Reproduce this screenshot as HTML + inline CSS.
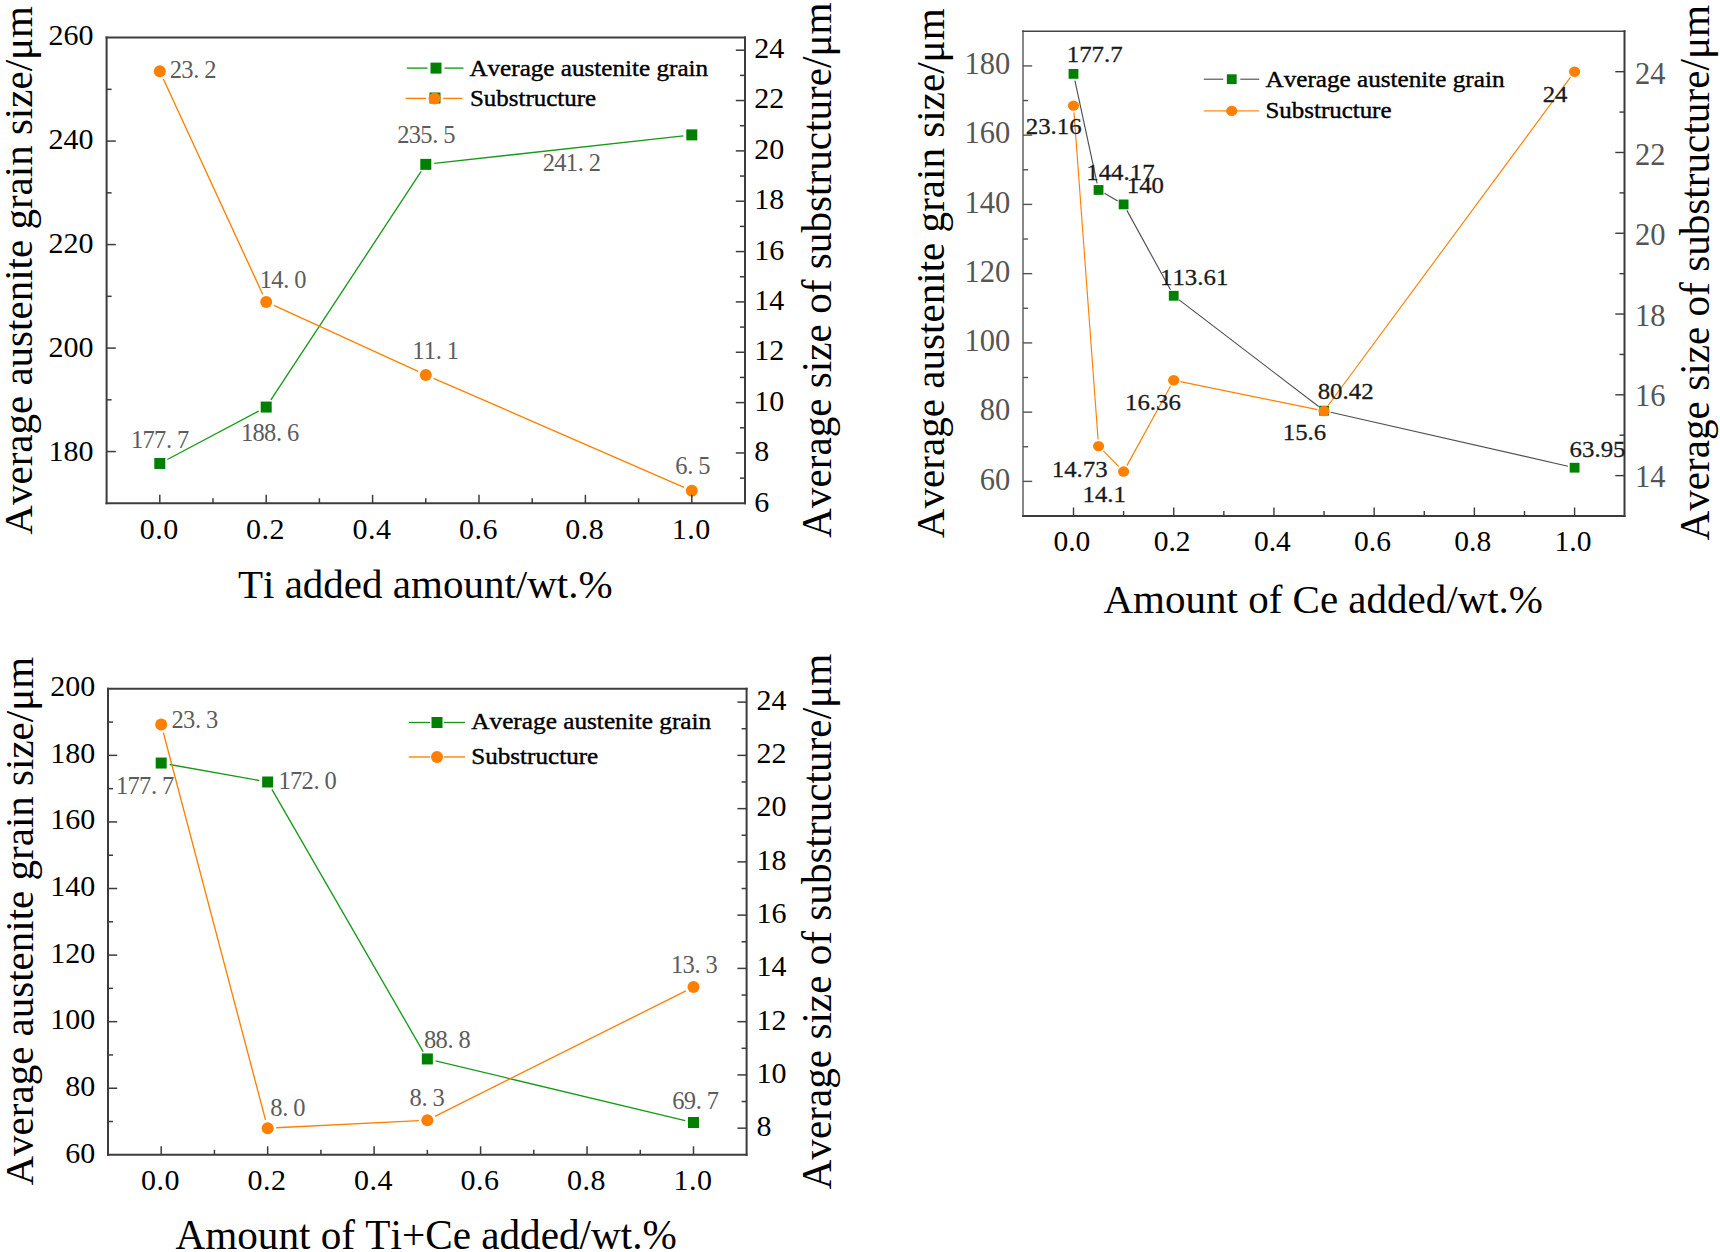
<!DOCTYPE html>
<html lang="en"><head><meta charset="utf-8"><title>Grain size charts</title>
<style>html,body{margin:0;padding:0;background:#fff}body{width:1720px;height:1252px;overflow:hidden;font-family:"Liberation Serif",serif}svg text{font-family:"Liberation Serif",serif}</style>
</head><body>
<svg width="1720" height="1252" viewBox="0 0 1720 1252" font-family="'Liberation Serif', serif" style="font-kerning:none;display:block">
<rect width="1720" height="1252" fill="#fff"/>
<g>
<line x1="167.31" y1="459.48" x2="258.69" y2="411.04" stroke="#189a18" stroke-width="1.35"/>
<line x1="270.87" y1="399.95" x2="421.13" y2="171.48" stroke="#189a18" stroke-width="1.35"/>
<line x1="434.25" y1="163.44" x2="683.35" y2="135.82" stroke="#189a18" stroke-width="1.35"/>
<line x1="163.36" y1="79.05" x2="262.64" y2="294.2" stroke="#ff8000" stroke-width="1.35"/>
<line x1="273.93" y1="305.45" x2="418.07" y2="371.38" stroke="#ff8000" stroke-width="1.35"/>
<line x1="433.59" y1="378.31" x2="684.01" y2="487.32" stroke="#ff8000" stroke-width="1.35"/>
<rect x="154.3" y="457.96" width="11" height="11" fill="#008000"/>
<rect x="260.7" y="401.56" width="11" height="11" fill="#008000"/>
<rect x="420.3" y="158.87" width="11" height="11" fill="#008000"/>
<rect x="686.3" y="129.38" width="11" height="11" fill="#008000"/>
<ellipse cx="159.8" cy="71.33" rx="6" ry="6" fill="#ff8000"/>
<ellipse cx="266.2" cy="301.92" rx="6" ry="6" fill="#ff8000"/>
<ellipse cx="425.8" cy="374.92" rx="6" ry="6" fill="#ff8000"/>
<ellipse cx="691.8" cy="490.71" rx="6" ry="6" fill="#ff8000"/>
<line x1="106.6" y1="36.6" x2="106.6" y2="504.3" stroke="#3c3c3c" stroke-width="2"/>
<line x1="105.6" y1="37.6" x2="746" y2="37.6" stroke="#3c3c3c" stroke-width="2"/>
<line x1="745" y1="36.6" x2="745" y2="504.3" stroke="#3c3c3c" stroke-width="2"/>
<line x1="105.6" y1="503.3" x2="746" y2="503.3" stroke="#3c3c3c" stroke-width="2"/>
<line x1="159.8" y1="503.3" x2="159.8" y2="494.8" stroke="#3c3c3c" stroke-width="1.5"/>
<line x1="213" y1="503.3" x2="213" y2="498.3" stroke="#3c3c3c" stroke-width="1.5"/>
<line x1="266.2" y1="503.3" x2="266.2" y2="494.8" stroke="#3c3c3c" stroke-width="1.5"/>
<line x1="319.4" y1="503.3" x2="319.4" y2="498.3" stroke="#3c3c3c" stroke-width="1.5"/>
<line x1="372.6" y1="503.3" x2="372.6" y2="494.8" stroke="#3c3c3c" stroke-width="1.5"/>
<line x1="425.8" y1="503.3" x2="425.8" y2="498.3" stroke="#3c3c3c" stroke-width="1.5"/>
<line x1="479" y1="503.3" x2="479" y2="494.8" stroke="#3c3c3c" stroke-width="1.5"/>
<line x1="532.2" y1="503.3" x2="532.2" y2="498.3" stroke="#3c3c3c" stroke-width="1.5"/>
<line x1="585.4" y1="503.3" x2="585.4" y2="494.8" stroke="#3c3c3c" stroke-width="1.5"/>
<line x1="638.6" y1="503.3" x2="638.6" y2="498.3" stroke="#3c3c3c" stroke-width="1.5"/>
<line x1="691.8" y1="503.3" x2="691.8" y2="494.8" stroke="#3c3c3c" stroke-width="1.5"/>
<text x="159.2" y="538.6" font-size="30" fill="#000" text-anchor="middle" letter-spacing="0.5">0.0</text>
<text x="265.6" y="538.6" font-size="30" fill="#000" text-anchor="middle" letter-spacing="0.5">0.2</text>
<text x="372" y="538.6" font-size="30" fill="#000" text-anchor="middle" letter-spacing="0.5">0.4</text>
<text x="478.4" y="538.6" font-size="30" fill="#000" text-anchor="middle" letter-spacing="0.5">0.6</text>
<text x="584.8" y="538.6" font-size="30" fill="#000" text-anchor="middle" letter-spacing="0.5">0.8</text>
<text x="691.2" y="538.6" font-size="30" fill="#000" text-anchor="middle" letter-spacing="0.5">1.0</text>
<line x1="106.6" y1="451.56" x2="115.8" y2="451.56" stroke="#3c3c3c" stroke-width="1.5"/>
<text x="93.6" y="460.86" font-size="30" fill="#000" text-anchor="end" >180</text>
<line x1="106.6" y1="399.81" x2="111.6" y2="399.81" stroke="#3c3c3c" stroke-width="1.5"/>
<line x1="106.6" y1="348.07" x2="115.8" y2="348.07" stroke="#3c3c3c" stroke-width="1.5"/>
<text x="93.6" y="356.77" font-size="30" fill="#000" text-anchor="end" >200</text>
<line x1="106.6" y1="296.32" x2="111.6" y2="296.32" stroke="#3c3c3c" stroke-width="1.5"/>
<line x1="106.6" y1="244.58" x2="115.8" y2="244.58" stroke="#3c3c3c" stroke-width="1.5"/>
<text x="93.6" y="252.68" font-size="30" fill="#000" text-anchor="end" >220</text>
<line x1="106.6" y1="192.83" x2="111.6" y2="192.83" stroke="#3c3c3c" stroke-width="1.5"/>
<line x1="106.6" y1="141.09" x2="115.8" y2="141.09" stroke="#3c3c3c" stroke-width="1.5"/>
<text x="93.6" y="148.59" font-size="30" fill="#000" text-anchor="end" >240</text>
<line x1="106.6" y1="89.34" x2="111.6" y2="89.34" stroke="#3c3c3c" stroke-width="1.5"/>
<text x="93.6" y="44.5" font-size="30" fill="#000" text-anchor="end" >260</text>
<text x="754.3" y="511.6" font-size="30" fill="#000" text-anchor="start" >6</text>
<line x1="745" y1="478.13" x2="740" y2="478.13" stroke="#3c3c3c" stroke-width="1.5"/>
<line x1="745" y1="452.95" x2="735.8" y2="452.95" stroke="#3c3c3c" stroke-width="1.5"/>
<text x="754.3" y="461.21" font-size="30" fill="#000" text-anchor="start" >8</text>
<line x1="745" y1="427.78" x2="740" y2="427.78" stroke="#3c3c3c" stroke-width="1.5"/>
<line x1="745" y1="402.61" x2="735.8" y2="402.61" stroke="#3c3c3c" stroke-width="1.5"/>
<text x="754.3" y="410.81" font-size="30" fill="#000" text-anchor="start" >10</text>
<line x1="745" y1="377.44" x2="740" y2="377.44" stroke="#3c3c3c" stroke-width="1.5"/>
<line x1="745" y1="352.26" x2="735.8" y2="352.26" stroke="#3c3c3c" stroke-width="1.5"/>
<text x="754.3" y="360.42" font-size="30" fill="#000" text-anchor="start" >12</text>
<line x1="745" y1="327.09" x2="740" y2="327.09" stroke="#3c3c3c" stroke-width="1.5"/>
<line x1="745" y1="301.92" x2="735.8" y2="301.92" stroke="#3c3c3c" stroke-width="1.5"/>
<text x="754.3" y="310.02" font-size="30" fill="#000" text-anchor="start" >14</text>
<line x1="745" y1="276.74" x2="740" y2="276.74" stroke="#3c3c3c" stroke-width="1.5"/>
<line x1="745" y1="251.57" x2="735.8" y2="251.57" stroke="#3c3c3c" stroke-width="1.5"/>
<text x="754.3" y="259.63" font-size="30" fill="#000" text-anchor="start" >16</text>
<line x1="745" y1="226.4" x2="740" y2="226.4" stroke="#3c3c3c" stroke-width="1.5"/>
<line x1="745" y1="201.22" x2="735.8" y2="201.22" stroke="#3c3c3c" stroke-width="1.5"/>
<text x="754.3" y="209.23" font-size="30" fill="#000" text-anchor="start" >18</text>
<line x1="745" y1="176.05" x2="740" y2="176.05" stroke="#3c3c3c" stroke-width="1.5"/>
<line x1="745" y1="150.88" x2="735.8" y2="150.88" stroke="#3c3c3c" stroke-width="1.5"/>
<text x="754.3" y="158.84" font-size="30" fill="#000" text-anchor="start" >20</text>
<line x1="745" y1="125.71" x2="740" y2="125.71" stroke="#3c3c3c" stroke-width="1.5"/>
<line x1="745" y1="100.53" x2="735.8" y2="100.53" stroke="#3c3c3c" stroke-width="1.5"/>
<text x="754.3" y="108.44" font-size="30" fill="#000" text-anchor="start" >22</text>
<line x1="745" y1="75.36" x2="740" y2="75.36" stroke="#3c3c3c" stroke-width="1.5"/>
<line x1="745" y1="50.19" x2="735.8" y2="50.19" stroke="#3c3c3c" stroke-width="1.5"/>
<text x="754.3" y="58.05" font-size="30" fill="#000" text-anchor="start" >24</text>
<text transform="translate(31.9 270.4) rotate(-90)" font-size="41" fill="#000" text-anchor="middle" >Average austenite grain size/μm</text>
<text transform="translate(831 270.15) rotate(-90)" font-size="41.2" fill="#000" text-anchor="middle" >Average size of substructure/μm</text>
<text x="425.3" y="598" font-size="41" fill="#000" text-anchor="middle" >Ti added amount/wt.%</text>
<line x1="406.9" y1="68.1" x2="427.5" y2="68.1" stroke="#189a18" stroke-width="1.35"/>
<line x1="444.5" y1="68.1" x2="463.5" y2="68.1" stroke="#189a18" stroke-width="1.35"/>
<rect x="430.5" y="62.6" width="11" height="11" fill="#008000"/>
<text x="469.4" y="75.6" font-size="23.8" fill="#000" text-anchor="start" textLength="238.7" lengthAdjust="spacingAndGlyphs" stroke="#000" stroke-width="0.4">Average austenite grain</text>
<line x1="405.6" y1="98.4" x2="426.1" y2="98.4" stroke="#ff8000" stroke-width="1.35"/>
<line x1="443.1" y1="98.4" x2="462.3" y2="98.4" stroke="#ff8000" stroke-width="1.35"/>
<rect x="429.5" y="92.5" width="11" height="11" fill="#008000"/>
<ellipse cx="434.6" cy="98.4" rx="6" ry="6" fill="#ff8000"/>
<text x="470" y="105.6" font-size="23.8" fill="#000" text-anchor="start" textLength="126" lengthAdjust="spacingAndGlyphs" stroke="#000" stroke-width="0.4">Substructure</text>
<text x="175.8 187.3 196.25 210.3" y="77.5" font-size="24.5" fill="#5c5c5c" text-anchor="middle">23.2</text>
<text x="265.8 277.3 286.25 300.3" y="287.5" font-size="24.5" fill="#5c5c5c" text-anchor="middle">14.0</text>
<text x="403.3 414.8 426.3 435.25 449.3" y="143.1" font-size="24.5" fill="#5c5c5c" text-anchor="middle">235.5</text>
<text x="548.95 560.45 571.95 580.9 594.95" y="170.6" font-size="24.5" fill="#5c5c5c" text-anchor="middle">241.2</text>
<text x="418.3 429.8 438.75 452.8" y="359.25" font-size="24.5" fill="#5c5c5c" text-anchor="middle">11.1</text>
<text x="137.05 148.55 160.05 169 183.05" y="447.5" font-size="24.5" fill="#5c5c5c" text-anchor="middle">177.7</text>
<text x="247.05 258.55 270.05 279 293.05" y="441.25" font-size="24.5" fill="#5c5c5c" text-anchor="middle">188.6</text>
<text x="681.45 690.4 704.45" y="474.25" font-size="24.5" fill="#5c5c5c" text-anchor="middle">6.5</text>
</g>
<g>
<line x1="1074.93" y1="80.53" x2="1097.12" y2="183.32" stroke="#505050" stroke-width="1.15"/>
<line x1="1104.45" y1="193.37" x2="1117.72" y2="201.01" stroke="#505050" stroke-width="1.15"/>
<line x1="1126.88" y1="210.37" x2="1170.45" y2="289.81" stroke="#505050" stroke-width="1.15"/>
<line x1="1179.12" y1="299.9" x2="1318.65" y2="406.55" stroke="#505050" stroke-width="1.15"/>
<line x1="1330.68" y1="412.19" x2="1567.97" y2="466.19" stroke="#505050" stroke-width="1.15"/>
<line x1="1074" y1="112.4" x2="1098.06" y2="439.34" stroke="#ff8000" stroke-width="1.15"/>
<line x1="1103.33" y1="450.97" x2="1118.84" y2="466.72" stroke="#ff8000" stroke-width="1.15"/>
<line x1="1126.88" y1="465.61" x2="1170.45" y2="386.24" stroke="#ff8000" stroke-width="1.15"/>
<line x1="1180.38" y1="381.64" x2="1317.39" y2="409.62" stroke="#ff8000" stroke-width="1.15"/>
<line x1="1328.09" y1="405.51" x2="1570.56" y2="77.16" stroke="#ff8000" stroke-width="1.15"/>
<rect x="1068.6" y="68.98" width="9.8" height="9.8" fill="#008000"/>
<rect x="1093.65" y="185.07" width="9.8" height="9.8" fill="#008000"/>
<rect x="1118.71" y="199.51" width="9.8" height="9.8" fill="#008000"/>
<rect x="1168.82" y="290.87" width="9.8" height="9.8" fill="#008000"/>
<rect x="1319.15" y="405.78" width="9.8" height="9.8" fill="#008000"/>
<rect x="1569.7" y="462.8" width="9.8" height="9.8" fill="#008000"/>
<ellipse cx="1073.5" cy="105.62" rx="5.6" ry="5.2" fill="#ff8000"/>
<ellipse cx="1098.56" cy="446.12" rx="5.6" ry="5.2" fill="#ff8000"/>
<ellipse cx="1123.61" cy="471.57" rx="5.6" ry="5.2" fill="#ff8000"/>
<ellipse cx="1173.72" cy="380.28" rx="5.6" ry="5.2" fill="#ff8000"/>
<ellipse cx="1324.05" cy="410.98" rx="5.6" ry="5.2" fill="#ff8000"/>
<ellipse cx="1574.6" cy="71.69" rx="5.6" ry="5.2" fill="#ff8000"/>
<line x1="1023" y1="30.3" x2="1023" y2="517" stroke="#555" stroke-width="1.4"/>
<line x1="1022.3" y1="31.3" x2="1625.5" y2="31.3" stroke="#444" stroke-width="1.5"/>
<line x1="1624.5" y1="30.3" x2="1624.5" y2="517" stroke="#3a3a3a" stroke-width="2"/>
<line x1="1022.3" y1="516" x2="1625.5" y2="516" stroke="#3a3a3a" stroke-width="2"/>
<line x1="1073.5" y1="516" x2="1073.5" y2="507.5" stroke="#3a3a3a" stroke-width="1.4"/>
<line x1="1123.61" y1="516" x2="1123.61" y2="511" stroke="#3a3a3a" stroke-width="1.4"/>
<line x1="1173.72" y1="516" x2="1173.72" y2="507.5" stroke="#3a3a3a" stroke-width="1.4"/>
<line x1="1223.83" y1="516" x2="1223.83" y2="511" stroke="#3a3a3a" stroke-width="1.4"/>
<line x1="1273.94" y1="516" x2="1273.94" y2="507.5" stroke="#3a3a3a" stroke-width="1.4"/>
<line x1="1324.05" y1="516" x2="1324.05" y2="511" stroke="#3a3a3a" stroke-width="1.4"/>
<line x1="1374.16" y1="516" x2="1374.16" y2="507.5" stroke="#3a3a3a" stroke-width="1.4"/>
<line x1="1424.27" y1="516" x2="1424.27" y2="511" stroke="#3a3a3a" stroke-width="1.4"/>
<line x1="1474.38" y1="516" x2="1474.38" y2="507.5" stroke="#3a3a3a" stroke-width="1.4"/>
<line x1="1524.49" y1="516" x2="1524.49" y2="511" stroke="#3a3a3a" stroke-width="1.4"/>
<line x1="1574.6" y1="516" x2="1574.6" y2="507.5" stroke="#3a3a3a" stroke-width="1.4"/>
<text x="1071.9" y="550.6" font-size="29.5" fill="#000" text-anchor="middle" >0.0</text>
<text x="1172.12" y="550.6" font-size="29.5" fill="#000" text-anchor="middle" >0.2</text>
<text x="1272.34" y="550.6" font-size="29.5" fill="#000" text-anchor="middle" >0.4</text>
<text x="1372.56" y="550.6" font-size="29.5" fill="#000" text-anchor="middle" >0.6</text>
<text x="1472.78" y="550.6" font-size="29.5" fill="#000" text-anchor="middle" >0.8</text>
<text x="1573" y="550.6" font-size="29.5" fill="#000" text-anchor="middle" >1.0</text>
<line x1="1023" y1="481.38" x2="1032.2" y2="481.38" stroke="#555" stroke-width="1.4"/>
<text x="1010.2" y="489.58" font-size="30.5" fill="#555" text-anchor="end" >60</text>
<line x1="1023" y1="446.76" x2="1028" y2="446.76" stroke="#555" stroke-width="1.4"/>
<line x1="1023" y1="412.14" x2="1032.2" y2="412.14" stroke="#555" stroke-width="1.4"/>
<text x="1010.2" y="420.34" font-size="30.5" fill="#555" text-anchor="end" >80</text>
<line x1="1023" y1="377.51" x2="1028" y2="377.51" stroke="#555" stroke-width="1.4"/>
<line x1="1023" y1="342.89" x2="1032.2" y2="342.89" stroke="#555" stroke-width="1.4"/>
<text x="1010.2" y="351.09" font-size="30.5" fill="#555" text-anchor="end" >100</text>
<line x1="1023" y1="308.27" x2="1028" y2="308.27" stroke="#555" stroke-width="1.4"/>
<line x1="1023" y1="273.65" x2="1032.2" y2="273.65" stroke="#555" stroke-width="1.4"/>
<text x="1010.2" y="281.85" font-size="30.5" fill="#555" text-anchor="end" >120</text>
<line x1="1023" y1="239.03" x2="1028" y2="239.03" stroke="#555" stroke-width="1.4"/>
<line x1="1023" y1="204.41" x2="1032.2" y2="204.41" stroke="#555" stroke-width="1.4"/>
<text x="1010.2" y="212.61" font-size="30.5" fill="#555" text-anchor="end" >140</text>
<line x1="1023" y1="169.79" x2="1028" y2="169.79" stroke="#555" stroke-width="1.4"/>
<line x1="1023" y1="135.16" x2="1032.2" y2="135.16" stroke="#555" stroke-width="1.4"/>
<text x="1010.2" y="143.36" font-size="30.5" fill="#555" text-anchor="end" >160</text>
<line x1="1023" y1="100.54" x2="1028" y2="100.54" stroke="#555" stroke-width="1.4"/>
<line x1="1023" y1="65.92" x2="1032.2" y2="65.92" stroke="#555" stroke-width="1.4"/>
<text x="1010.2" y="74.12" font-size="30.5" fill="#555" text-anchor="end" >180</text>
<line x1="1624.5" y1="475.61" x2="1615.3" y2="475.61" stroke="#3a3a3a" stroke-width="1.4"/>
<text x="1635" y="487.02" font-size="30.5" fill="#555" text-anchor="start" >14</text>
<line x1="1624.5" y1="435.22" x2="1619.5" y2="435.22" stroke="#3a3a3a" stroke-width="1.4"/>
<line x1="1624.5" y1="394.82" x2="1615.3" y2="394.82" stroke="#3a3a3a" stroke-width="1.4"/>
<text x="1635" y="406.45" font-size="30.5" fill="#555" text-anchor="start" >16</text>
<line x1="1624.5" y1="354.43" x2="1619.5" y2="354.43" stroke="#3a3a3a" stroke-width="1.4"/>
<line x1="1624.5" y1="314.04" x2="1615.3" y2="314.04" stroke="#3a3a3a" stroke-width="1.4"/>
<text x="1635" y="325.88" font-size="30.5" fill="#555" text-anchor="start" >18</text>
<line x1="1624.5" y1="273.65" x2="1619.5" y2="273.65" stroke="#3a3a3a" stroke-width="1.4"/>
<line x1="1624.5" y1="233.26" x2="1615.3" y2="233.26" stroke="#3a3a3a" stroke-width="1.4"/>
<text x="1635" y="245.32" font-size="30.5" fill="#555" text-anchor="start" >20</text>
<line x1="1624.5" y1="192.87" x2="1619.5" y2="192.87" stroke="#3a3a3a" stroke-width="1.4"/>
<line x1="1624.5" y1="152.47" x2="1615.3" y2="152.47" stroke="#3a3a3a" stroke-width="1.4"/>
<text x="1635" y="164.75" font-size="30.5" fill="#555" text-anchor="start" >22</text>
<line x1="1624.5" y1="112.08" x2="1619.5" y2="112.08" stroke="#3a3a3a" stroke-width="1.4"/>
<line x1="1624.5" y1="71.69" x2="1615.3" y2="71.69" stroke="#3a3a3a" stroke-width="1.4"/>
<text x="1635" y="84.18" font-size="30.5" fill="#555" text-anchor="start" >24</text>
<text transform="translate(944.3 273.3) rotate(-90)" font-size="41.1" fill="#000" text-anchor="middle" >Average austenite grain size/μm</text>
<text transform="translate(1708.8 272.8) rotate(-90)" font-size="41.2" fill="#000" text-anchor="middle" >Average size of substructure/μm</text>
<text x="1323.25" y="613" font-size="41" fill="#000" text-anchor="middle" >Amount of Ce added/wt.%</text>
<line x1="1203.75" y1="79.2" x2="1223.25" y2="79.2" stroke="#505050" stroke-width="1.15"/>
<line x1="1240.25" y1="79.2" x2="1259.25" y2="79.2" stroke="#505050" stroke-width="1.15"/>
<rect x="1226.85" y="74.3" width="9.8" height="9.8" fill="#008000"/>
<text x="1265.5" y="86.9" font-size="23.5" fill="#000" text-anchor="start" textLength="239" lengthAdjust="spacingAndGlyphs" stroke="#000" stroke-width="0.4">Average austenite grain</text>
<line x1="1203.75" y1="110.9" x2="1227.75" y2="110.9" stroke="#ff8000" stroke-width="1.15"/>
<line x1="1235.75" y1="110.9" x2="1259.25" y2="110.9" stroke="#ff8000" stroke-width="1.15"/>
<ellipse cx="1231.75" cy="110.9" rx="5.6" ry="5.2" fill="#ff8000"/>
<text x="1265.5" y="118" font-size="23.5" fill="#000" text-anchor="start" textLength="126" lengthAdjust="spacingAndGlyphs" stroke="#000" stroke-width="0.4">Substructure</text>
<text transform="translate(1066.8 61.9) scale(1.035 1)" font-size="24" fill="#1a1a1a" text-anchor="start" stroke="#1a1a1a" stroke-width="0.3">177.7</text>
<text transform="translate(1025.8 134.4) scale(1.035 1)" font-size="24" fill="#1a1a1a" text-anchor="start" stroke="#1a1a1a" stroke-width="0.3">23.16</text>
<text transform="translate(1086.3 180) scale(1.035 1)" font-size="24" fill="#1a1a1a" text-anchor="start" stroke="#1a1a1a" stroke-width="0.3">144.17</text>
<text transform="translate(1126.8 192.6) scale(1.035 1)" font-size="24" fill="#1a1a1a" text-anchor="start" stroke="#1a1a1a" stroke-width="0.3">140</text>
<text transform="translate(1160.05 285) scale(1.035 1)" font-size="24" fill="#1a1a1a" text-anchor="start" stroke="#1a1a1a" stroke-width="0.3">113.61</text>
<text transform="translate(1125.05 410.3) scale(1.035 1)" font-size="24" fill="#1a1a1a" text-anchor="start" stroke="#1a1a1a" stroke-width="0.3">16.36</text>
<text transform="translate(1051.8 476.5) scale(1.035 1)" font-size="24" fill="#1a1a1a" text-anchor="start" stroke="#1a1a1a" stroke-width="0.3">14.73</text>
<text transform="translate(1082.55 501.5) scale(1.035 1)" font-size="24" fill="#1a1a1a" text-anchor="start" stroke="#1a1a1a" stroke-width="0.3">14.1</text>
<text transform="translate(1282.8 440) scale(1.035 1)" font-size="24" fill="#1a1a1a" text-anchor="start" stroke="#1a1a1a" stroke-width="0.3">15.6</text>
<text transform="translate(1317.7 399.25) scale(1.035 1)" font-size="24" fill="#1a1a1a" text-anchor="start" stroke="#1a1a1a" stroke-width="0.3">80.42</text>
<text transform="translate(1569.6 456.9) scale(1.035 1)" font-size="24" fill="#1a1a1a" text-anchor="start" stroke="#1a1a1a" stroke-width="0.3">63.95</text>
<text transform="translate(1542.7 101.9) scale(1.035 1)" font-size="24" fill="#1a1a1a" text-anchor="start" stroke="#1a1a1a" stroke-width="0.3">24</text>
</g>
<g>
<line x1="169.57" y1="764.52" x2="259.29" y2="780.51" stroke="#189a18" stroke-width="1.35"/>
<line x1="271.91" y1="789.36" x2="423.1" y2="1051.57" stroke="#189a18" stroke-width="1.35"/>
<line x1="435.62" y1="1060.91" x2="685.23" y2="1120.54" stroke="#189a18" stroke-width="1.35"/>
<line x1="163.37" y1="732.7" x2="265.49" y2="1119.95" stroke="#ff8000" stroke-width="1.35"/>
<line x1="276.15" y1="1127.75" x2="418.86" y2="1120.61" stroke="#ff8000" stroke-width="1.35"/>
<line x1="434.95" y1="1116.38" x2="685.9" y2="990.84" stroke="#ff8000" stroke-width="1.35"/>
<rect x="155.7" y="757.53" width="11" height="11" fill="#008000"/>
<rect x="262.16" y="776.5" width="11" height="11" fill="#008000"/>
<rect x="421.85" y="1053.44" width="11" height="11" fill="#008000"/>
<rect x="688" y="1117.01" width="11" height="11" fill="#008000"/>
<ellipse cx="161.2" cy="724.48" rx="6" ry="6" fill="#ff8000"/>
<ellipse cx="267.66" cy="1128.17" rx="6" ry="6" fill="#ff8000"/>
<ellipse cx="427.35" cy="1120.18" rx="6" ry="6" fill="#ff8000"/>
<ellipse cx="693.5" cy="987.04" rx="6" ry="6" fill="#ff8000"/>
<line x1="108" y1="687.8" x2="108" y2="1155.8" stroke="#3c3c3c" stroke-width="2"/>
<line x1="107" y1="688.8" x2="747.6" y2="688.8" stroke="#3c3c3c" stroke-width="2"/>
<line x1="746.6" y1="687.8" x2="746.6" y2="1155.8" stroke="#3c3c3c" stroke-width="2"/>
<line x1="107" y1="1154.8" x2="747.6" y2="1154.8" stroke="#3c3c3c" stroke-width="2"/>
<line x1="161.2" y1="1154.8" x2="161.2" y2="1146.3" stroke="#3c3c3c" stroke-width="1.5"/>
<line x1="214.43" y1="1154.8" x2="214.43" y2="1149.8" stroke="#3c3c3c" stroke-width="1.5"/>
<line x1="267.66" y1="1154.8" x2="267.66" y2="1146.3" stroke="#3c3c3c" stroke-width="1.5"/>
<line x1="320.89" y1="1154.8" x2="320.89" y2="1149.8" stroke="#3c3c3c" stroke-width="1.5"/>
<line x1="374.12" y1="1154.8" x2="374.12" y2="1146.3" stroke="#3c3c3c" stroke-width="1.5"/>
<line x1="427.35" y1="1154.8" x2="427.35" y2="1149.8" stroke="#3c3c3c" stroke-width="1.5"/>
<line x1="480.58" y1="1154.8" x2="480.58" y2="1146.3" stroke="#3c3c3c" stroke-width="1.5"/>
<line x1="533.81" y1="1154.8" x2="533.81" y2="1149.8" stroke="#3c3c3c" stroke-width="1.5"/>
<line x1="587.04" y1="1154.8" x2="587.04" y2="1146.3" stroke="#3c3c3c" stroke-width="1.5"/>
<line x1="640.27" y1="1154.8" x2="640.27" y2="1149.8" stroke="#3c3c3c" stroke-width="1.5"/>
<line x1="693.5" y1="1154.8" x2="693.5" y2="1146.3" stroke="#3c3c3c" stroke-width="1.5"/>
<text x="160.6" y="1189.75" font-size="30" fill="#000" text-anchor="middle" letter-spacing="0.5">0.0</text>
<text x="267.06" y="1189.75" font-size="30" fill="#000" text-anchor="middle" letter-spacing="0.5">0.2</text>
<text x="373.52" y="1189.75" font-size="30" fill="#000" text-anchor="middle" letter-spacing="0.5">0.4</text>
<text x="479.98" y="1189.75" font-size="30" fill="#000" text-anchor="middle" letter-spacing="0.5">0.6</text>
<text x="586.44" y="1189.75" font-size="30" fill="#000" text-anchor="middle" letter-spacing="0.5">0.8</text>
<text x="692.9" y="1189.75" font-size="30" fill="#000" text-anchor="middle" letter-spacing="0.5">1.0</text>
<text x="95.3" y="1162.8" font-size="30" fill="#000" text-anchor="end" >60</text>
<line x1="108" y1="1121.51" x2="113" y2="1121.51" stroke="#3c3c3c" stroke-width="1.5"/>
<line x1="108" y1="1088.23" x2="117.2" y2="1088.23" stroke="#3c3c3c" stroke-width="1.5"/>
<text x="95.3" y="1096.1" font-size="30" fill="#000" text-anchor="end" >80</text>
<line x1="108" y1="1054.94" x2="113" y2="1054.94" stroke="#3c3c3c" stroke-width="1.5"/>
<line x1="108" y1="1021.66" x2="117.2" y2="1021.66" stroke="#3c3c3c" stroke-width="1.5"/>
<text x="95.3" y="1029.4" font-size="30" fill="#000" text-anchor="end" >100</text>
<line x1="108" y1="988.37" x2="113" y2="988.37" stroke="#3c3c3c" stroke-width="1.5"/>
<line x1="108" y1="955.09" x2="117.2" y2="955.09" stroke="#3c3c3c" stroke-width="1.5"/>
<text x="95.3" y="962.7" font-size="30" fill="#000" text-anchor="end" >120</text>
<line x1="108" y1="921.8" x2="113" y2="921.8" stroke="#3c3c3c" stroke-width="1.5"/>
<line x1="108" y1="888.51" x2="117.2" y2="888.51" stroke="#3c3c3c" stroke-width="1.5"/>
<text x="95.3" y="896" font-size="30" fill="#000" text-anchor="end" >140</text>
<line x1="108" y1="855.23" x2="113" y2="855.23" stroke="#3c3c3c" stroke-width="1.5"/>
<line x1="108" y1="821.94" x2="117.2" y2="821.94" stroke="#3c3c3c" stroke-width="1.5"/>
<text x="95.3" y="829.3" font-size="30" fill="#000" text-anchor="end" >160</text>
<line x1="108" y1="788.66" x2="113" y2="788.66" stroke="#3c3c3c" stroke-width="1.5"/>
<line x1="108" y1="755.37" x2="117.2" y2="755.37" stroke="#3c3c3c" stroke-width="1.5"/>
<text x="95.3" y="762.6" font-size="30" fill="#000" text-anchor="end" >180</text>
<line x1="108" y1="722.09" x2="113" y2="722.09" stroke="#3c3c3c" stroke-width="1.5"/>
<text x="95.3" y="695.9" font-size="30" fill="#000" text-anchor="end" >200</text>
<line x1="746.6" y1="1128.17" x2="737.4" y2="1128.17" stroke="#3c3c3c" stroke-width="1.5"/>
<text x="756.6" y="1136.24" font-size="30" fill="#000" text-anchor="start" >8</text>
<line x1="746.6" y1="1101.54" x2="741.6" y2="1101.54" stroke="#3c3c3c" stroke-width="1.5"/>
<line x1="746.6" y1="1074.91" x2="737.4" y2="1074.91" stroke="#3c3c3c" stroke-width="1.5"/>
<text x="756.6" y="1082.93" font-size="30" fill="#000" text-anchor="start" >10</text>
<line x1="746.6" y1="1048.29" x2="741.6" y2="1048.29" stroke="#3c3c3c" stroke-width="1.5"/>
<line x1="746.6" y1="1021.66" x2="737.4" y2="1021.66" stroke="#3c3c3c" stroke-width="1.5"/>
<text x="756.6" y="1029.61" font-size="30" fill="#000" text-anchor="start" >12</text>
<line x1="746.6" y1="995.03" x2="741.6" y2="995.03" stroke="#3c3c3c" stroke-width="1.5"/>
<line x1="746.6" y1="968.4" x2="737.4" y2="968.4" stroke="#3c3c3c" stroke-width="1.5"/>
<text x="756.6" y="976.3" font-size="30" fill="#000" text-anchor="start" >14</text>
<line x1="746.6" y1="941.77" x2="741.6" y2="941.77" stroke="#3c3c3c" stroke-width="1.5"/>
<line x1="746.6" y1="915.14" x2="737.4" y2="915.14" stroke="#3c3c3c" stroke-width="1.5"/>
<text x="756.6" y="922.99" font-size="30" fill="#000" text-anchor="start" >16</text>
<line x1="746.6" y1="888.51" x2="741.6" y2="888.51" stroke="#3c3c3c" stroke-width="1.5"/>
<line x1="746.6" y1="861.89" x2="737.4" y2="861.89" stroke="#3c3c3c" stroke-width="1.5"/>
<text x="756.6" y="869.67" font-size="30" fill="#000" text-anchor="start" >18</text>
<line x1="746.6" y1="835.26" x2="741.6" y2="835.26" stroke="#3c3c3c" stroke-width="1.5"/>
<line x1="746.6" y1="808.63" x2="737.4" y2="808.63" stroke="#3c3c3c" stroke-width="1.5"/>
<text x="756.6" y="816.36" font-size="30" fill="#000" text-anchor="start" >20</text>
<line x1="746.6" y1="782" x2="741.6" y2="782" stroke="#3c3c3c" stroke-width="1.5"/>
<line x1="746.6" y1="755.37" x2="737.4" y2="755.37" stroke="#3c3c3c" stroke-width="1.5"/>
<text x="756.6" y="763.04" font-size="30" fill="#000" text-anchor="start" >22</text>
<line x1="746.6" y1="728.74" x2="741.6" y2="728.74" stroke="#3c3c3c" stroke-width="1.5"/>
<line x1="746.6" y1="702.11" x2="737.4" y2="702.11" stroke="#3c3c3c" stroke-width="1.5"/>
<text x="756.6" y="709.73" font-size="30" fill="#000" text-anchor="start" >24</text>
<text transform="translate(32.9 921.25) rotate(-90)" font-size="41" fill="#000" text-anchor="middle" >Average austenite grain size/μm</text>
<text transform="translate(831 921.6) rotate(-90)" font-size="41.2" fill="#000" text-anchor="middle" >Average size of substructure/μm</text>
<text x="426.15" y="1248.5" font-size="41.2" fill="#000" text-anchor="middle" >Amount of Ti+Ce added/wt.%</text>
<line x1="408.75" y1="722.5" x2="430" y2="722.5" stroke="#189a18" stroke-width="1.35"/>
<line x1="444" y1="722.5" x2="465" y2="722.5" stroke="#189a18" stroke-width="1.35"/>
<rect x="431.5" y="717" width="11" height="11" fill="#008000"/>
<text x="471.25" y="729.25" font-size="23.8" fill="#000" text-anchor="start" textLength="240" lengthAdjust="spacingAndGlyphs" stroke="#000" stroke-width="0.4">Average austenite grain</text>
<line x1="408.75" y1="757" x2="430.2" y2="757" stroke="#ff8000" stroke-width="1.35"/>
<line x1="443.8" y1="757" x2="465" y2="757" stroke="#ff8000" stroke-width="1.35"/>
<ellipse cx="437" cy="757" rx="6" ry="6" fill="#ff8000"/>
<text x="471.25" y="763.75" font-size="23.8" fill="#000" text-anchor="start" textLength="127" lengthAdjust="spacingAndGlyphs" stroke="#000" stroke-width="0.4">Substructure</text>
<text x="177.7 189.2 198.15 212.2" y="728.1" font-size="24.5" fill="#5c5c5c" text-anchor="middle">23.3</text>
<text x="122.05 133.55 145.05 154 168.05" y="794.4" font-size="24.5" fill="#5c5c5c" text-anchor="middle">177.7</text>
<text x="284.55 296.05 307.55 316.5 330.55" y="788.75" font-size="24.5" fill="#5c5c5c" text-anchor="middle">172.0</text>
<text x="276.45 285.4 299.45" y="1115.8" font-size="24.5" fill="#5c5c5c" text-anchor="middle">8.0</text>
<text x="415.7 424.65 438.7" y="1105.5" font-size="24.5" fill="#5c5c5c" text-anchor="middle">8.3</text>
<text x="430 441.5 450.45 464.5" y="1047.5" font-size="24.5" fill="#5c5c5c" text-anchor="middle">88.8</text>
<text x="677.05 688.55 697.5 711.55" y="973.25" font-size="24.5" fill="#5c5c5c" text-anchor="middle">13.3</text>
<text x="678.3 689.8 698.75 712.8" y="1108.5" font-size="24.5" fill="#5c5c5c" text-anchor="middle">69.7</text>
</g>
</svg>
</body></html>
